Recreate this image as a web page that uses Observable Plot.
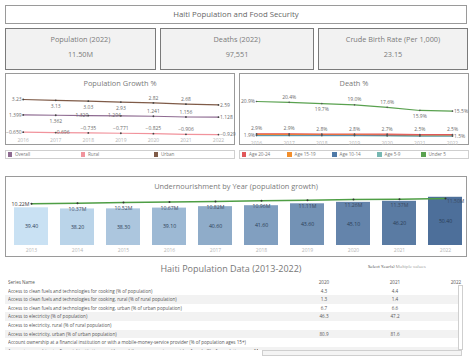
<!DOCTYPE html>
<html><head><meta charset="utf-8">
<script src="https://cdn.jsdelivr.net/npm/d3@7"></script>
<script src="https://cdn.jsdelivr.net/npm/@observablehq/plot@0.6"></script>
<style>
body{margin:0;background:#fff;font-family:"Open Sans",sans-serif;}
#root{position:relative;width:474px;height:363px;overflow:hidden;background:#fff;}
#root svg{overflow:visible;}
.abs{position:absolute;box-sizing:border-box;}
.kpi{background:#f2f2f2;border:1.5px solid #7a7a7a;text-align:center;color:#7a7a7a;}
.panel{border:1px solid #9a9a9a;}
.ptitle{position:absolute;left:0;right:0;text-align:center;color:#7a7a7a;font-size:7.4px;}
.legend{border:1px solid #cfcfcf;font-size:4.6px;color:#777;}
.legend span.item{position:absolute;top:0;line-height:7px;white-space:nowrap;}
.legend span.sw{display:inline-block;width:4.5px;height:4.5px;vertical-align:-0.5px;margin-right:3px;}
.tbl{font-size:4.6px;color:#555;}
.row{position:absolute;left:0;width:455px;height:8.6px;line-height:8.6px;}
.row .name{position:absolute;left:3px;width:250px;overflow:hidden;white-space:nowrap;}
.row .c{position:absolute;width:30px;text-align:center;}
</style></head><body><div id="root"></div>
<script>
// ---------- DATA ----------
const dashboardTitle = "Haiti Population and Food Security";
const kpiLabels = ["Population (2022)", "Deaths (2022)", "Crude Birth Rate (Per 1,000)"];
const kpiValues = ["11.50M", "97,551", "23.15"];

const growthYears = [2016, 2017, 2018, 2019, 2020, 2021, 2022];
const growthSeries = ["Overall", "Rural", "Urban"];
const overallGrowth = [1.399, 1.362, 1.329, 1.294, 1.241, 1.156, 1.128];
const ruralGrowth = [-0.650, -0.696, -0.735, -0.771, -0.825, -0.906, -0.929];
const urbanGrowth = [3.23, 3.13, 3.03, 2.93, 2.82, 2.68, 2.59];

const deathYears = [2016, 2017, 2018, 2019, 2020, 2021, 2022];
const deathSeries = ["Age 20-24", "Age 15-19", "Age 10-14", "Age 5-9", "Under 5"];
const deathAge20to24 = [2.9, 2.9, 2.8, 2.8, 2.7, 2.5, 2.5];
const deathAge15to19 = [2.6, 2.6, 2.5, 2.5, 2.4, 2.2, 2.2];
const deathAge10to14 = [2.2, 2.2, 2.1, 2.1, 2.0, 1.8, 1.8];
const deathAge5to9 = [1.9, 1.9, 1.8, 1.8, 1.7, 1.6, 1.5];
const deathUnder5 = [20.9, 20.4, 19.7, 19.0, 17.6, 15.9, 15.5];

const underYears = [2013, 2014, 2015, 2016, 2017, 2018, 2019, 2020, 2021, 2022];
const undernourishment = [39.40, 38.20, 38.30, 39.10, 40.60, 41.60, 43.60, 45.10, 46.20, 50.40];
const populationM = [10.22, 10.37, 10.52, 10.67, 10.82, 10.96, 11.11, 11.26, 11.37, 11.50];

const tableTitle = "Haiti Population Data (2013-2022)";
const tableColumns = ["2020", "2021", "2022"];
const tableSeries = [
  "Access to clean fuels and technologies for cooking (% of population)",
  "Access to clean fuels and technologies for cooking, rural (% of rural population)",
  "Access to clean fuels and technologies for cooking, urban (% of urban population)",
  "Access to electricity (% of population)",
  "Access to electricity, rural (% of rural population)",
  "Access to electricity, urban (% of urban population)",
  "Account ownership at a financial institution or with a mobile-money-service provider (% of population ages 15+)",
  "Account ownership at a financial institution or with a mobile-money-service provider, female (% of population ages 15+)"
];
const table2020 = [4.3, 1.3, 6.7, 46.3, null, 80.9, null, null];
const table2021 = [4.4, 1.4, 6.6, 47.2, null, 81.6, null, null];
const table2022 = [null, null, null, null, null, null, null, null];

// ---------- STYLE ----------
const FONT = '"Open Sans", sans-serif';
const growthColors = ["#8e6b91", "#f1939c", "#7f5b48"];
const deathColors = ["#e15759", "#f28e2b", "#4e79a7", "#76b7b2", "#59a14f"];
const root = document.getElementById("root");

function el(tag, cls, css, html) {
  const e = document.createElement(tag);
  if (cls) e.className = cls;
  if (css) e.style.cssText = css;
  if (html != null) e.innerHTML = html;
  root.appendChild(e);
  return e;
}
function place(node, left, top) {
  node.style.position = "absolute"; node.style.left = left + "px"; node.style.top = top + "px";
  root.appendChild(node);
}

// title
el("div", "abs", "left:5px;top:5px;width:462px;height:19px;border:1px solid #9a9a9a;text-align:center;line-height:17px;font-size:7.8px;color:#666;", dashboardTitle);

// KPIs
const kpiBoxes = [[5, 151], [160, 154], [318, 150]];
kpiLabels.forEach((lab, i) => {
  const b = el("div", "abs kpi", `left:${kpiBoxes[i][0]}px;top:28px;width:${kpiBoxes[i][1]}px;height:42px;`);
  b.innerHTML = `<div style="position:absolute;left:0;right:0;top:4.5px;font-size:7.3px;">${lab}</div>
                 <div style="position:absolute;left:0;right:0;top:20px;font-size:7.3px;">${kpiValues[i]}</div>`;
});

// panels
function panel(css, title) {
  const p = el("div", "abs panel", css);
  const t = document.createElement("div");
  t.className = "ptitle"; t.style.top = "4px"; t.textContent = title;
  p.appendChild(t);
}
panel("left:5px;top:73px;width:230px;height:72px;", "Population Growth %");
panel("left:239px;top:73px;width:230px;height:72px;", "Death %");
panel("left:5px;top:176px;width:462px;height:81px;", "Undernourishment by Year (population growth)");

// legends
function legend(left, width, names, colors, offsets) {
  const L = el("div", "abs legend", `left:${left}px;top:150px;width:${width}px;height:9px;`);
  names.forEach((n, i) => {
    const s = document.createElement("span");
    s.className = "item"; s.style.left = offsets[i] + "px";
    s.innerHTML = `<span class="sw" style="background:${colors[i]}"></span>${n}`;
    L.appendChild(s);
  });
}
legend(5, 230, growthSeries, growthColors, [1.5, 74.5, 147.5]);
legend(239, 230, deathSeries, deathColors, [1.5, 47, 92, 137, 181]);

// ---------- Population growth chart ----------
const growthValues = {Overall: overallGrowth, Rural: ruralGrowth, Urban: urbanGrowth};
const growthFmt = {Overall: d3.format(".3f"), Rural: d3.format(".3f"), Urban: d3.format(".2f")};
const growthPos = {
  Urban: ["left", "below", "below", "below", "above", "above", "right"],
  Overall: ["left", "below", "onl", "onl", "above", "above", "right"],
  Rural: ["left", "on", "above", "above", "above", "above", "right"]
};
const growthRows = growthSeries.flatMap(s => growthYears.map((y, i) => ({
  series: s, year: y, value: growthValues[s][i], label: growthFmt[s](growthValues[s][i]), pos: growthPos[s][i]
})));
const posStyle = {
  left: {textAnchor: "end", dx: -1.5},
  right: {textAnchor: "start", dx: 1.5},
  above: {dy: -5},
  below: {dy: 6},
  on: {dx: 6},
  onl: {textAnchor: "end", dx: 0}
};
function labelMarks(rows, fill) {
  return Object.entries(posStyle).map(([p, s]) =>
    Plot.text(rows.filter(d => d.pos === p), {x: "year", y: "value", text: "label", fill, fontSize: 5, ...s}));
}
const growthChart = Plot.plot({
  width: 230, height: 57, marginTop: 0, marginBottom: 10, marginLeft: 17.7, marginRight: 17,
  style: {fontFamily: FONT, fontSize: "5px", background: "transparent", color: "#aaa"},
  x: {domain: [2016, 2022], label: null},
  y: {domain: [-1.04, 4.535], axis: null},
  color: {domain: growthSeries, range: growthColors},
  marks: [
    Plot.axisX({ticks: growthYears, tickFormat: d => String(d), tickSize: 0, tickPadding: 3, label: null, fill: "#b5b5b5"}),
    Plot.line(growthRows, {x: "year", y: "value", z: "series", stroke: "series", strokeWidth: 1.2}),
    Plot.dot(growthRows, {x: "year", y: "value", r: 0.9, fill: "#444"}),
    ...labelMarks(growthRows, "#6a6a6a")
  ]
});
place(growthChart, 5, 88);

// ---------- Death chart ----------
const deathValues = {"Age 20-24": deathAge20to24, "Age 15-19": deathAge15to19, "Age 10-14": deathAge10to14, "Age 5-9": deathAge5to9, "Under 5": deathUnder5};
const deathPos = {
  "Under 5": ["left", "above", "below", "above", "above", "below", "right"],
  "Age 20-24": ["above", "above", "above", "above", "above", "above", "above"],
  "Age 5-9": ["left", "", "", "", "", "", "right"],
  "Age 15-19": ["", "", "", "", "", "", ""],
  "Age 10-14": ["", "", "", "", "", "", ""]
};
const drawOrder = ["Age 5-9", "Age 10-14", "Age 15-19", "Age 20-24", "Under 5"];
const deathRows = drawOrder.flatMap(s => deathYears.map((y, i) => ({
  series: s, year: y, value: deathValues[s][i], label: d3.format(".1f")(deathValues[s][i]) + "%", pos: deathPos[s][i]
})));
const deathChart = Plot.plot({
  width: 232, height: 57, marginTop: 0, marginBottom: 6, marginLeft: 18, marginRight: 18,
  style: {fontFamily: FONT, fontSize: "5px", background: "transparent", color: "#aaa"},
  x: {domain: [2016, 2022], label: null},
  y: {domain: [-0.28, 28.1], axis: null},
  color: {domain: deathSeries, range: deathColors},
  marks: [
    Plot.axisX({ticks: deathYears, tickFormat: d => String(d), tickSize: 0, tickPadding: 1.5, label: null, fill: "#b5b5b5"}),
    Plot.line(deathRows, {x: "year", y: "value", z: "series", stroke: "series", strokeWidth: 1.1}),
    Plot.dot(deathRows, {x: "year", y: "value", r: 0.8, fill: "#555"}),
    ...labelMarks(deathRows, "#6a6a6a")
  ]
});
place(deathChart, 238, 88);

// ---------- Undernourishment chart ----------
const underRows = underYears.map((y, i) => ({
  year: y, value: undernourishment[i], pop: populationM[i],
  label: d3.format(".2f")(undernourishment[i]), popLabel: d3.format(".2f")(populationM[i]) + "M",
  pos: i === 0 ? "left" : i === underYears.length - 1 ? "right" : "below"
}));
const barChart = Plot.plot({
  width: 474, height: 65, marginTop: 0, marginBottom: 12, marginLeft: 1, marginRight: 0,
  style: {fontFamily: FONT, fontSize: "5px", background: "transparent", color: "#aaa"},
  x: {type: "band", domain: underYears, padding: 0.2625, label: null},
  y: {domain: [0, 55.4], axis: null},
  color: {type: "linear", domain: [d3.min(populationM), d3.max(populationM)], range: ["#c9e1f3", "#4d6f9a"]},
  marks: [
    Plot.axisX({tickFormat: d => String(d), tickSize: 0, tickPadding: 3, label: null, fill: "#b5b5b5"}),
    Plot.barY(underRows, {x: "year", y: "value", fill: "pop"}),
    Plot.text(underRows, {x: "year", y: d => d.value / 2, text: "label", fill: "#2a3d55", fontSize: 5.2})
  ]
});
place(barChart, 0, 192);

const lineChart = Plot.plot({
  width: 474, height: 65, marginTop: 0, marginBottom: 12, marginLeft: 1, marginRight: 0,
  style: {fontFamily: FONT, fontSize: "5px", background: "transparent"},
  x: {type: "band", domain: underYears, padding: 0.2625, axis: null},
  y: {domain: [0, 13.0], axis: null},
  marks: [
    Plot.line(underRows, {x: "year", y: "pop", stroke: "#4f9e45", strokeWidth: 1.5}),
    Plot.dot(underRows, {x: "year", y: "pop", r: 1, fill: "#333"}),
    Plot.text(underRows.filter(d => d.pos === "left"), {x: "year", y: "pop", text: "popLabel", textAnchor: "end", dx: -2, fill: "#3a3a3a", fontSize: 5.2}),
    Plot.text(underRows.filter(d => d.pos === "below"), {x: "year", y: "pop", text: "popLabel", dy: 6, fill: "#3a4a60", fontSize: 5.2}),
    Plot.text(underRows.filter(d => d.pos === "right"), {x: "year", y: "pop", text: "popLabel", textAnchor: "start", dx: 1.5, dy: 2.5, fill: "#3a4a60", fontSize: 5})
  ]
});
place(lineChart, 0, 192);

// ---------- Table ----------
el("div", "abs", "left:0;width:462px;top:262px;text-align:center;font-size:9px;color:#777;", tableTitle);
el("div", "abs", "left:368px;top:263px;font-size:4.3px;color:#444;white-space:nowrap;", 'Select Year(s) <span style="color:#999">Multiple values</span>');
const tbl = el("div", "abs tbl", "left:5px;top:278px;width:462px;height:72px;overflow:hidden;");
const colX = [304, 375, 436];
const colVals = [table2020, table2021, table2022];
function addRow(top, name, vals, shade) {
  const r = document.createElement("div");
  r.className = "row"; r.style.top = top + "px";
  if (shade) r.style.background = "#f2f2f2";
  r.innerHTML = `<span class="name">${name}</span>` +
    vals.map((v, j) => `<span class="c" style="left:${colX[j]}px">${v == null ? "" : v}</span>`).join("");
  tbl.appendChild(r);
}
addRow(0, "Series Name", tableColumns, false);
tableSeries.forEach((s, i) => addRow(8.6 * (i + 1), s, colVals.map(c => c[i] == null ? null : d3.format(".1f")(c[i])), i % 2 === 1));
el("div", "abs", "left:458px;top:285px;width:5px;height:65px;border:1px solid #cfcfcf;background:#fff;");
el("div", "abs", "left:262px;top:350px;width:200px;height:6px;border:1px solid #cfcfcf;background:#f4f4f4;");
</script></body></html>
